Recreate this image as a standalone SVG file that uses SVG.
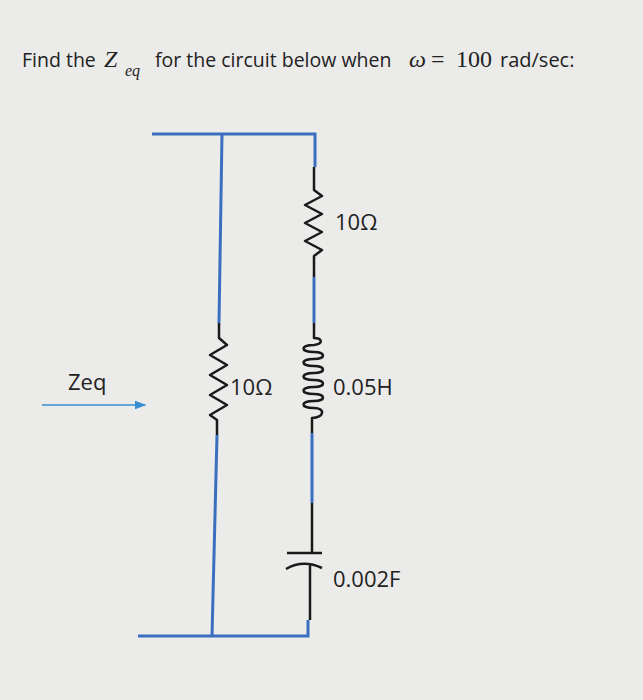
<svg xmlns="http://www.w3.org/2000/svg" width="643" height="700" viewBox="0 0 643 700">
<style>
.w{stroke:#3a6fc0;stroke-width:3;fill:none}
.k{stroke:#1a1a1a;stroke-width:2.5;fill:none;stroke-linejoin:round}
.t{font-family:"Open Sans","Liberation Sans",Arial,sans-serif;fill:#222}
.m{font-family:"Liberation Serif","Times New Roman",serif;fill:#222}
</style>
<defs><marker id="a" markerWidth="8" markerHeight="8" refX="7" refY="4" orient="auto"><path d="M0,1 L8,4 L0,7 Z" fill="#3a8fd0"/></marker></defs>
<rect width="643" height="700" fill="#ebebea"/>
<g id="title">
<text x="22" y="67" class="t" font-size="19.5">Find the</text>
<text x="104" y="67" class="m" font-size="24" font-style="italic">Z</text>
<text x="125" y="76" class="m" font-size="16" font-style="italic">eq</text>
<text x="155" y="67" class="t" font-size="19.5">for the circuit below when</text>
<text x="409" y="67" class="m" font-size="24" font-style="italic">ω</text>
<text x="431" y="67" class="m" font-size="24">=</text>
<text x="456" y="67" class="m" font-size="24">100</text>
<text x="500" y="67" class="t" font-size="20">rad/sec:</text>
</g>
<g id="connectors">
<path class="w" d="M152,134 H315 V167"/>
<path class="w" d="M222,134 L219,323"/>
<path class="w" d="M217,435 L212,636"/>
<path class="w" d="M314,277 V323"/>
<path class="w" d="M312,433 V503"/>
<path class="w" d="M138,636 H308 V620"/>
<line x1="42" y1="405" x2="145" y2="405" stroke="#3a8fd0" stroke-width="1.5" marker-end="url(#a)"/>
</g>
<g id="zeq"><text x="68" y="390" class="t" font-size="22">Zeq</text></g>
<g id="r1">
<path class="k" d="M219,323 V338 L227,345 L210,355 L227,365 L210,375 L227,385 L210,395 L227,405 L210,415 L217,420 V435"/>
<text x="230" y="395" class="t" font-size="22">10Ω</text>
</g>
<g id="r2">
<path class="k" d="M314,167 V190 L322,196 L305,205 L322,214 L305,223 L322,232 L305,241 L322,250 L314,256 V277"/>
<text x="335" y="230" class="t" font-size="22">10Ω</text>
</g>
<g id="l1">
<path class="k" d="M314,323 V338 C322,338 324,344 314,345 M314,345 C300,345 300,352 314,352 C326,352 326,359 314,359 C300,359 300,366 314,366 C326,366 326,373 314,373 C300,373 300,380 314,380 C326,380 326,387 314,387 C300,387 300,394 314,394 C326,394 326,401 314,401 C300,401 300,408 314,408 C326,408 324,418 312,418 V433"/>
<text x="333" y="395" class="t" font-size="22">0.05H</text>
</g>
<g id="c1">
<path class="k" d="M312,503 V553 M287,553 H322 M286,569 Q303,559 322,568 M310,565 V620"/>
<text x="333" y="587" class="t" font-size="22">0.002F</text>
</g>
</svg>
